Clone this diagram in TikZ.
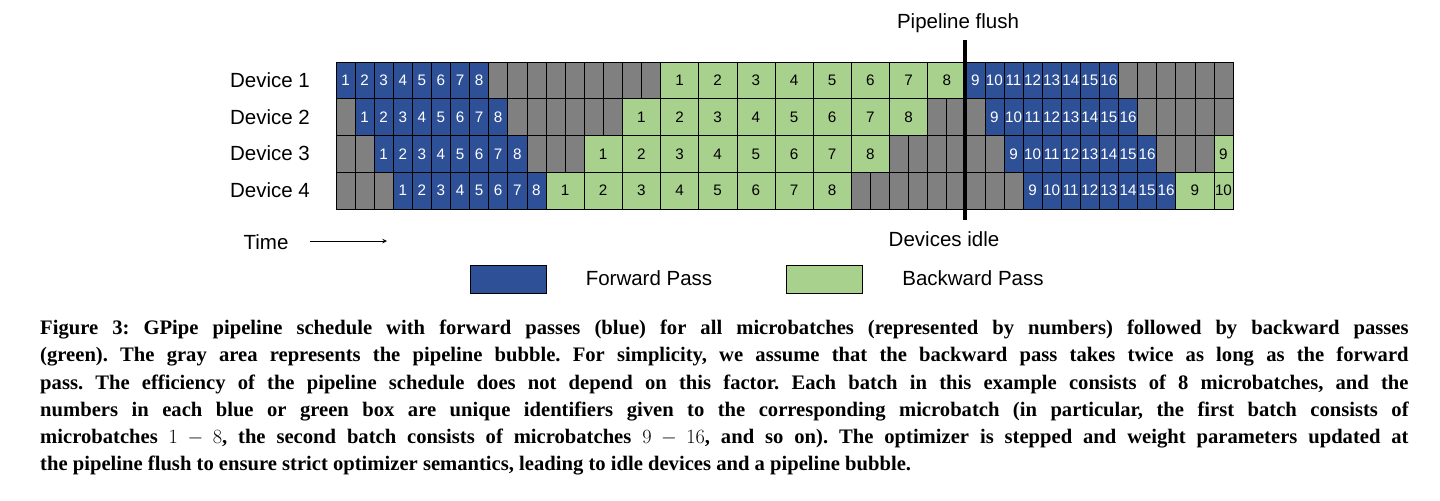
\documentclass[tikz,border=0pt]{standalone}
\usepackage{fontspec}
\setmainfont{Liberation Serif}
\newfontfamily\dsans{Liberation Sans}
\definecolor{fw}{HTML}{2E5097}
\definecolor{bw}{HTML}{A9D18E}
\definecolor{gr}{HTML}{808080}
\begin{document}
\begin{tikzpicture}[x=0.03cm,y=-0.03cm,
  cellbox/.style={draw=black,line width=0.5pt},
  lbl/.style={font=\dsans\fontsize{17.5}{19}\selectfont},
  num/.style={font=\dsans\fontsize{13}{14}\selectfont,inner sep=0pt}]
\useasboundingbox (0,0) rectangle (1440,500);
\def\U{19.085}
\def\X{336}
% gray background
\foreach \r in {0,...,3}{
  \foreach \c in {0,...,46}{
    \path[cellbox,fill=gr] ({\X+\c*\U},{62+\r*36.75}) rectangle ({\X+(\c+1)*\U},{62+(\r+1)*36.75});
  }
  \node[lbl,anchor=east] (dev\r) at (314,{80+\r*36.75}) {Device \the\numexpr\r+1\relax};
  \foreach \i in {0,...,7}{
    \pgfmathsetmacro\c{\r+\i}
    \path[cellbox,fill=fw] ({\X+\c*\U},{62+\r*36.75}) rectangle ({\X+(\c+1)*\U},{62+(\r+1)*36.75});
    \node[num,text=white] (fa\r\i) at ({\X+(\c+0.5)*\U},{62+(\r+0.5)*36.75}) {\the\numexpr\i+1\relax};
    \pgfmathsetmacro\d{33+\r+\i}
    \path[cellbox,fill=fw] ({\X+\d*\U},{62+\r*36.75}) rectangle ({\X+(\d+1)*\U},{62+(\r+1)*36.75});
    \node[num,text=white] (fb\r\i) at ({\X+(\d+0.5)*\U},{62+(\r+0.5)*36.75}) {\the\numexpr\i+9\relax};
    \pgfmathsetmacro\e{17-2*\r+2*\i}
    \path[cellbox,fill=bw] ({\X+\e*\U},{62+\r*36.75}) rectangle ({\X+(\e+2)*\U},{62+(\r+1)*36.75});
    \node[num] (ba\r\i) at ({\X+(\e+1)*\U},{62+(\r+0.5)*36.75}) {\the\numexpr\i+1\relax};
  }
}
\path[cellbox,fill=bw] ({\X+46*\U},{62+2*36.75}) rectangle ({\X+47*\U},{62+3*36.75});
\node[num] (bb29) at ({\X+46.5*\U},{62+2.5*36.75}) {9};
\path[cellbox,fill=bw] ({\X+44*\U},{62+3*36.75}) rectangle ({\X+46*\U},{62+4*36.75});
\node[num] (bb39) at ({\X+45*\U},{62+3.5*36.75}) {9};
\path[cellbox,fill=bw] ({\X+46*\U},{62+3*36.75}) rectangle ({\X+47*\U},{62+4*36.75});
\node[num] (bb310) at ({\X+46.5*\U},{62+3.5*36.75}) {10};
\draw[line width=0.8pt] (\X,62) rectangle ({\X+47*\U},209);
\coordinate (ft) at (965,40);
\coordinate (fbm) at (965,220);
\draw[line width=3.5pt] (ft) -- (fbm);
\node[lbl] (flush) at (958,23) {Pipeline flush};
\node[lbl] (idle) at (944,239) {Devices idle};
\node[lbl] (time) at (266,242) {Time};
\coordinate (ta) at (310,241);
\coordinate (tb) at (387,241);
\draw[-stealth,line width=0.8pt] (ta) -- (tb);
\path[draw=black,fill=fw,line width=0.6pt] (470,265) rectangle (546,293);
\node[lbl] (lf) at (649,278) {Forward Pass};
\path[draw=black,fill=bw,line width=0.6pt] (786,265) rectangle (862,293);
\node[lbl] (lb) at (973,278) {Backward Pass};
\node[anchor=north west,inner sep=0pt,text width=41.05cm,align=justify,
  font=\bfseries\fontsize{17.6}{23.2}\selectfont] (cap) at (40,320) {\frenchspacing%
Figure 3: GPipe pipeline schedule with forward passes (blue) for all microbatches (represented by numbers) followed by backward passes\linebreak
(green). The gray area represents the pipeline bubble. For simplicity, we assume that the backward pass takes twice as long as the forward\linebreak
pass. The efficiency of the pipeline schedule does not depend on this factor. Each batch in this example consists of 8 microbatches, and the\linebreak
numbers in each blue or green box are unique identifiers given to the corresponding microbatch (in particular, the first batch consists of\linebreak
microbatches $1-8$, the second batch consists of microbatches $9-16$, and so on). The optimizer is stepped and weight parameters updated at\linebreak
the pipeline flush to ensure strict optimizer semantics, leading to idle devices and a pipeline bubble.};
\end{tikzpicture}
\end{document}
